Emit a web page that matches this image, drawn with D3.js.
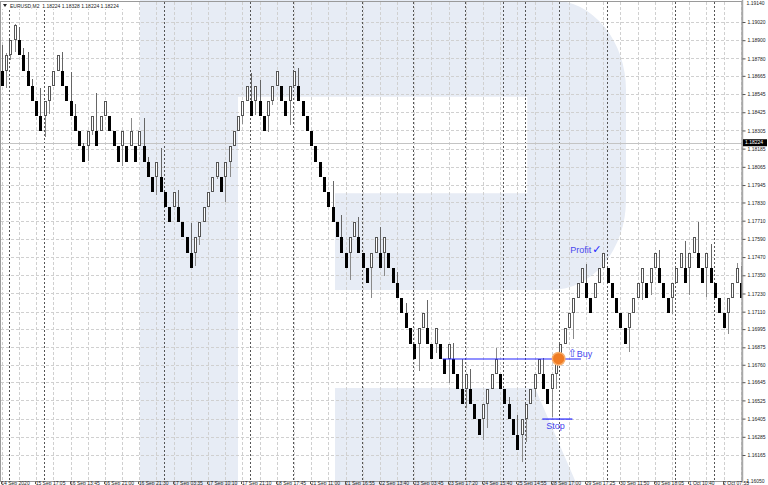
<!DOCTYPE html>
<html><head><meta charset="utf-8">
<script src="https://cdn.jsdelivr.net/npm/d3@7"></script>
<style>html,body{margin:0;padding:0;background:#fff;overflow:hidden}</style>
</head><body>
<svg id="chart" width="768" height="485"></svg>
<script>
// ---- data (EURUSD renko-style bars) ----
const openP = [1.187,1.187,1.188,1.189,1.189,1.188,1.187,1.186,1.185,1.184,
1.184,1.185,1.186,1.187,1.187,1.186,1.185,1.184,1.183,1.182,
1.182,1.183,1.183,1.183,1.184,1.184,1.183,1.182,1.182,1.182,
1.182,1.182,1.182,1.182,1.181,1.180,1.180,1.180,1.179,1.178,
1.178,1.178,1.177,1.176,1.175,1.175,1.176,1.177,1.178,1.179,
1.180,1.180,1.180,1.181,1.182,1.183,1.184,1.185,1.185,1.185,
1.185,1.184,1.184,1.185,1.186,1.186,1.185,1.185,1.186,1.186,
1.185,1.184,1.183,1.182,1.181,1.180,1.179,1.178,1.177,1.176,
1.175,1.175,1.176,1.176,1.175,1.174,1.174,1.175,1.175,1.175,
1.175,1.174,1.173,1.172,1.171,1.170,1.169,1.169,1.170,1.170,
1.169,1.169,1.169,1.168,1.168,1.168,1.167,1.166,1.166,1.166,
1.165,1.164,1.164,1.165,1.166,1.167,1.167,1.166,1.165,1.164,
1.163,1.163,1.164,1.165,1.166,1.167,1.167,1.166,1.166,1.167,
1.168,1.169,1.170,1.171,1.172,1.173,1.173,1.172,1.172,1.173,
1.174,1.174,1.173,1.172,1.171,1.170,1.170,1.171,1.172,1.173,
1.173,1.173,1.174,1.174,1.173,1.172,1.172,1.173,1.174,1.174,
1.174,1.175,1.175,1.174,1.174,1.174,1.173,1.172,1.171,1.171,
1.172,1.173,1.173];
const closeP = [1.186,1.188,1.189,1.190,1.188,1.187,1.186,1.185,1.184,1.183,
1.185,1.186,1.187,1.188,1.186,1.185,1.184,1.183,1.182,1.181,
1.183,1.184,1.182,1.184,1.185,1.183,1.182,1.181,1.183,1.181,
1.183,1.181,1.183,1.181,1.180,1.179,1.181,1.179,1.178,1.177,
1.179,1.177,1.176,1.175,1.174,1.176,1.177,1.178,1.179,1.180,
1.181,1.179,1.181,1.182,1.183,1.184,1.185,1.186,1.184,1.186,
1.184,1.183,1.185,1.186,1.187,1.185,1.184,1.186,1.187,1.185,
1.184,1.183,1.182,1.181,1.180,1.179,1.178,1.177,1.176,1.175,
1.174,1.176,1.177,1.175,1.174,1.173,1.175,1.176,1.174,1.176,
1.174,1.173,1.172,1.171,1.170,1.169,1.168,1.170,1.171,1.169,
1.168,1.170,1.168,1.167,1.169,1.167,1.166,1.165,1.167,1.165,
1.164,1.163,1.165,1.166,1.167,1.168,1.166,1.165,1.164,1.163,
1.162,1.164,1.165,1.166,1.167,1.168,1.166,1.165,1.167,1.168,
1.169,1.170,1.171,1.172,1.173,1.174,1.172,1.171,1.173,1.174,
1.175,1.173,1.172,1.171,1.170,1.169,1.171,1.172,1.173,1.174,
1.172,1.174,1.175,1.173,1.172,1.171,1.173,1.174,1.175,1.173,
1.175,1.176,1.174,1.173,1.175,1.173,1.172,1.171,1.170,1.172,
1.173,1.174,1.172];
const highP = [1.18868,1.18816,1.189,1.19005,1.18989,1.18849,1.18822,1.18644,1.185,1.18587,
1.185,1.186,1.187,1.188,1.18824,1.186,1.18688,1.18479,1.183,1.18224,
1.183,1.184,1.1855,1.184,1.185,1.184,1.183,1.182,1.183,1.182,
1.18385,1.182,1.183,1.18389,1.1813,1.180,1.181,1.18191,1.179,1.178,
1.179,1.17912,1.177,1.176,1.17695,1.176,1.177,1.178,1.179,1.180,
1.181,1.180,1.181,1.182,1.183,1.184,1.185,1.186,1.18686,1.186,
1.18638,1.184,1.185,1.186,1.187,1.186,1.185,1.186,1.187,1.18715,
1.185,1.184,1.183,1.182,1.181,1.180,1.179,1.17974,1.177,1.17747,
1.175,1.176,1.177,1.17736,1.175,1.174,1.175,1.176,1.1767,1.176,
1.175,1.174,1.17374,1.172,1.17165,1.170,1.169,1.170,1.171,1.17187,
1.169,1.170,1.169,1.168,1.169,1.16904,1.167,1.16798,1.167,1.16732,
1.165,1.164,1.165,1.166,1.167,1.16868,1.167,1.166,1.16549,1.164,
1.16429,1.164,1.165,1.166,1.167,1.168,1.16804,1.166,1.167,1.168,
1.169,1.170,1.171,1.172,1.173,1.174,1.17422,1.172,1.173,1.174,
1.175,1.174,1.173,1.172,1.171,1.170,1.171,1.172,1.173,1.174,
1.173,1.174,1.175,1.17517,1.173,1.172,1.173,1.174,1.175,1.17576,
1.175,1.176,1.17703,1.174,1.175,1.17554,1.173,1.172,1.171,1.172,
1.173,1.1743,1.17411];
const lowP = [1.186,1.18587,1.18769,1.18824,1.188,1.187,1.186,1.185,1.184,1.183,
1.18264,1.18413,1.186,1.187,1.186,1.185,1.184,1.183,1.182,1.181,
1.18105,1.18275,1.182,1.183,1.184,1.183,1.182,1.181,1.1807,1.181,
1.182,1.181,1.182,1.181,1.180,1.179,1.17879,1.179,1.178,1.177,
1.178,1.177,1.176,1.175,1.174,1.17411,1.1755,1.177,1.178,1.179,
1.17985,1.179,1.17833,1.17998,1.182,1.183,1.18347,1.185,1.184,1.18407,
1.184,1.183,1.18297,1.18473,1.186,1.185,1.184,1.18341,1.186,1.185,
1.184,1.183,1.182,1.181,1.180,1.179,1.178,1.177,1.176,1.175,
1.174,1.17319,1.176,1.175,1.174,1.173,1.17202,1.175,1.174,1.17347,
1.174,1.173,1.172,1.171,1.170,1.169,1.168,1.16721,1.170,1.169,
1.168,1.16837,1.168,1.167,1.16638,1.167,1.166,1.165,1.16473,1.165,
1.164,1.163,1.16264,1.16343,1.166,1.167,1.166,1.165,1.164,1.163,
1.162,1.16121,1.16253,1.165,1.16549,1.167,1.166,1.165,1.16418,1.166,
1.168,1.169,1.170,1.1693,1.172,1.173,1.172,1.171,1.172,1.173,
1.174,1.173,1.172,1.171,1.170,1.169,1.16846,1.171,1.172,1.17187,
1.172,1.1722,1.174,1.173,1.172,1.171,1.17093,1.173,1.174,1.173,
1.1722,1.175,1.174,1.173,1.17209,1.173,1.172,1.171,1.170,1.16961,
1.172,1.173,1.172];

const yTickValues = [1.19020,1.18900,1.18780,1.18665,1.18545,1.18425,1.18305,1.18185,1.18065,1.17945,1.17830,1.17710,1.17590,1.17470,1.17350,1.17230,1.17110,1.16995,1.16875,1.16760,1.16645,1.16525,1.16405,1.16285,1.16165];
const yTopLabel = "1.19140";
const yBottomLabel = "1.16050";
const xTickLabels = ["14 Sep 2020","15 Sep 17:05","16 Sep 13:45","16 Sep 21:00","16 Sep 21:30","17 Sep 03:35","17 Sep 10:10","17 Sep 21:10","18 Sep 17:45","21 Sep 11:00","21 Sep 16:55","22 Sep 13:40","23 Sep 03:45","23 Sep 17:20","24 Sep 15:40","25 Sep 14:55","28 Sep 17:00","29 Sep 17:25","30 Sep 11:50","30 Sep 18:05","1 Oct 10:40","2 Oct 07:55"];
const daySeparators = [3,11,39,59,69,85,97,109,118,123,131,142,158,167];
const currentPrice = 1.18224;
const headerText = "EURUSD,M2  1.18224 1.18328 1.18224 1.18224";
// trade annotation (bar index, price)
const buyLine = {from:103.6, to:135.8, price:1.16798};
const entryPoint = {bar:130.6, price:1.16800};
const stopLine = {from:126.8, to:133.8, price:1.16402};
const buyLabel = {bar:132.7, price:1.16811, arrow:"\u21E7", text:"Buy"};
const stopLabel = {bar:127.7, price:1.16338, text:"Stop"};
const profitLabel = {bar:133.3, price:1.17500, text:"Profit"};

// ---- drawing ----
const W = 768, H = 485;
const plot = {left:0.5, right:742, top:1.5, bottom:481.5};
const n = openP.length;
const bars = d3.range(n).map(i => ({i:i+1, o:openP[i], c:closeP[i], h:highP[i], l:lowP[i]}));
const x = d3.scaleLinear().domain([1, n]).range([1.8, 740.8]);
const y = d3.scaleLinear().domain([1.16165, 1.19020]).range([455, 22]);

const svg = d3.select("#chart");
svg.append("rect").attr("width",W).attr("height",H).attr("fill","#fff");

// watermark logo
const logo = svg.append("g").attr("fill","#e7ecf5");
logo.append("path").attr("d","M140,0 H551 A75,90 0 0 1 626,90 V200 A75,90 0 0 1 551,290 H335 V193.3 H527.3 V96.7 H238 V485 H140 Z");
logo.append("path").attr("d","M335,388 H535 L577,485 H335 Z");

svg.append("clipPath").attr("id","pc").append("rect")
  .attr("x",plot.left).attr("y",plot.top).attr("width",plot.right-plot.left).attr("height",plot.bottom-plot.top);

const grid = svg.append("g").attr("shape-rendering","crispEdges");
const gridCol = "#d0d0d0";
grid.selectAll("line.h").data(yTickValues).join("line")
  .attr("x1",plot.left).attr("x2",plot.right)
  .attr("y1",d=>Math.round(y(d))+0.5).attr("y2",d=>Math.round(y(d))+0.5)
  .attr("stroke",gridCol).attr("stroke-dasharray","3,2");
grid.selectAll("line.v").data(d3.range(1,n+1,4)).join("line")
  .attr("y1",plot.top).attr("y2",plot.bottom)
  .attr("x1",d=>Math.round(x(d))+0.5).attr("x2",d=>Math.round(x(d))+0.5)
  .attr("stroke",gridCol).attr("stroke-dasharray","3,2");
grid.selectAll("line.s").data(daySeparators).join("line")
  .attr("y1",plot.top).attr("y2",plot.bottom)
  .attr("x1",d=>Math.round(x(d))-0.5).attr("x2",d=>Math.round(x(d))-0.5)
  .attr("stroke","#555").attr("stroke-dasharray","2,2");
grid.append("line").attr("x1",plot.left).attr("x2",plot.right)
  .attr("y1",Math.round(y(currentPrice))+0.5).attr("y2",Math.round(y(currentPrice))+0.5)
  .attr("stroke","#c4c4c4");

// candles
const cg = svg.append("g").attr("clip-path","url(#pc)").attr("shape-rendering","crispEdges");
const cx = d => Math.round(x(d.i));
cg.selectAll("line.w").data(bars).join("line")
  .attr("x1",d=>cx(d)+0.5).attr("x2",d=>cx(d)+0.5)
  .attr("y1",d=>y(d.h)).attr("y2",d=>y(d.l))
  .attr("stroke",d=>d.c>=d.o?"#8a8a8a":"#666");
cg.selectAll("rect.dn").data(bars.filter(d=>d.c<d.o)).join("rect")
  .attr("x",d=>cx(d)-1).attr("width",3)
  .attr("y",d=>y(d.o)).attr("height",d=>y(d.c)-y(d.o))
  .attr("fill","#000");
cg.selectAll("rect.up").data(bars.filter(d=>d.c>=d.o)).join("rect")
  .attr("x",d=>cx(d)-0.5).attr("width",2)
  .attr("y",d=>Math.round(y(d.c))+0.5).attr("height",d=>Math.round(y(d.o))-Math.round(y(d.c))-1)
  .attr("fill","#fff").attr("stroke","#555");

// frame
svg.append("rect").attr("x",plot.left).attr("y",plot.top)
  .attr("width",plot.right-plot.left).attr("height",plot.bottom-plot.top)
  .attr("fill","none").attr("stroke","#9a9a9a");
svg.append("line").attr("x1",742.5).attr("x2",742.5).attr("y1",0).attr("y2",482)
  .attr("stroke","#a8a8a8").attr("stroke-width",1.5);

// header
const axisFont = "Liberation Sans, Arial, sans-serif";
svg.append("rect").attr("x",1).attr("y",2).attr("width",122).attr("height",7).attr("fill","#fff");
svg.append("path").attr("d","M3,4 L7,4 L5,7 Z").attr("fill","#222");
svg.append("text").attr("x",10).attr("y",8).text(headerText)
  .attr("font-family",axisFont).attr("font-size",5).attr("fill","#222")
  .style("white-space","pre");

// y axis
const yAxis = d3.axisRight(y).tickValues(yTickValues).tickFormat(d3.format(".5f")).tickSize(3).tickPadding(2);
const ya = svg.append("g").attr("transform","translate(742.5,0)").call(yAxis);
ya.select(".domain").remove();
ya.selectAll("line").attr("stroke","#555");
ya.selectAll("text").attr("font-family",axisFont).attr("font-size",5).attr("fill","#222");
svg.append("text").attr("x",746.5).attr("y",plot.top+2.5).text(yTopLabel)
  .attr("font-family",axisFont).attr("font-size",5).attr("fill","#222").attr("dominant-baseline","middle");
svg.append("text").attr("x",746.5).attr("y",plot.bottom).text(yBottomLabel)
  .attr("font-family",axisFont).attr("font-size",5).attr("fill","#222").attr("dominant-baseline","middle");
const cpy = y(currentPrice);
svg.append("rect").attr("x",743).attr("y",cpy-3.5).attr("width",24).attr("height",7).attr("fill","#000");
svg.append("text").attr("x",745).attr("y",cpy).text(d3.format(".5f")(currentPrice))
  .attr("font-family",axisFont).attr("font-size",5).attr("fill","#fff").attr("dominant-baseline","middle");

// x axis labels
const xIdx = xTickLabels.map((t,k)=>1+8*k);
const xa = svg.append("g");
xa.selectAll("line").data(xIdx).join("line")
  .attr("x1",d=>Math.round(x(d))-0.5).attr("x2",d=>Math.round(x(d))-0.5)
  .attr("y1",481.5).attr("y2",484).attr("stroke","#555");
xa.selectAll("text").data(xTickLabels).join("text")
  .attr("x",(t,k)=>x(xIdx[k])-0.5).attr("y",485)
  .text(t=>t).attr("font-family",axisFont).attr("font-size",5).attr("fill","#222");

// annotations
const blue = "#2424ff", tblue = "#4646ee";
const ann = svg.append("g");
ann.append("line").attr("x1",x(buyLine.from)).attr("x2",x(buyLine.to))
  .attr("y1",y(buyLine.price)).attr("y2",y(buyLine.price)).attr("stroke",blue).attr("stroke-width",1.2);
ann.append("line").attr("x1",x(stopLine.from)).attr("x2",x(stopLine.to))
  .attr("y1",y(stopLine.price)).attr("y2",y(stopLine.price)).attr("stroke",blue).attr("stroke-width",1.2);
ann.append("circle").attr("cx",x(entryPoint.bar)).attr("cy",y(entryPoint.price)).attr("r",6.3)
  .attr("fill","#f07c24").attr("stroke","#f6ae6e").attr("stroke-width",1.5);
const bt = ann.append("text").attr("x",x(buyLabel.bar)).attr("y",y(buyLabel.price))
  .attr("font-family","Liberation Sans, Arial, sans-serif").attr("font-size",9).attr("fill",tblue);
bt.append("tspan").attr("font-family","DejaVu Sans, sans-serif").attr("font-size",11).text(buyLabel.arrow);
bt.append("tspan").text(buyLabel.text);
ann.append("text").attr("x",x(stopLabel.bar)).attr("y",y(stopLabel.price)).text(stopLabel.text)
  .attr("font-family","Liberation Sans, Arial, sans-serif").attr("font-size",9).attr("fill",tblue);
const pt = ann.append("text").attr("x",x(profitLabel.bar)).attr("y",y(profitLabel.price))
  .attr("font-family","Liberation Sans, Arial, sans-serif").attr("font-size",9).attr("fill",tblue);
pt.append("tspan").text(profitLabel.text);
pt.append("tspan").attr("dx",1).attr("font-family","DejaVu Sans, sans-serif").attr("font-size",11).attr("fill",blue).text("\u2713");
</script>
</body></html>
